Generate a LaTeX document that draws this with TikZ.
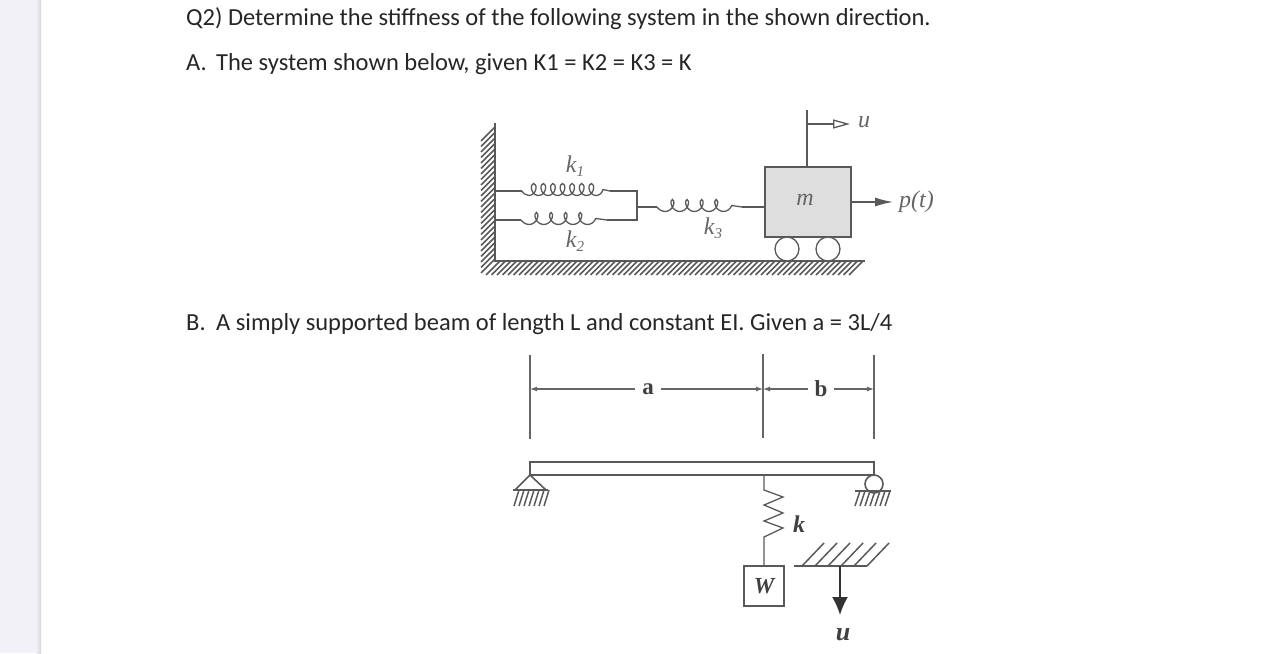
\documentclass[tikz,border=0pt]{standalone}
\usepackage{amsmath, amssymb}
\usepackage{fontspec}
\setmainfont{Carlito}
\newfontfamily\lblfont{Liberation Serif}
\usepackage{tikz}
\usetikzlibrary{arrows.meta, positioning, decorations.pathmorphing}

\definecolor{pagegray}{RGB}{241,241,247}
\definecolor{edgegray}{RGB}{212,212,218}
\newcommand{\ksub}[1]{{\itshape k}\raisebox{-4pt}{\fontsize{15}{15}\selectfont #1}}

\tikzset{
    qtext/.style={anchor=base west, inner sep=0pt, text=black!85, font=\fontsize{24.5}{28}\selectfont},
    lbl/.style={inner sep=0pt, text=black!60, font=\lblfont\itshape\fontsize{24}{26}\selectfont},
    lblb/.style={inner sep=0pt, text=black!75, font=\lblfont\bfseries\fontsize{23}{26}\selectfont},
    part/.style={draw=black!65, line width=1.3pt},
    hatch/.style={draw=black!65, line width=1.5pt},
    coilone/.style={part, decorate, decoration={coil, mirror, aspect=0.75, amplitude=6pt, segment length=9.6pt, raise=-1.5pt}},
    coiltwo/.style={part, decorate, decoration={coil, mirror, aspect=0.75, amplitude=6pt, segment length=14.6pt, raise=-1.5pt}},
    dimline/.style={draw=black!60, line width=1.2pt},
    dimtip/.tip={Latex[length=7pt,width=5pt]}
}

\begin{document}
\begin{tikzpicture}[x=1pt, y=-1pt]
    \useasboundingbox (0,0) rectangle (1284,653);

    % page edge
    \fill[pagegray] (0,0) rectangle (36,653);
    \shade[left color=pagegray, right color=edgegray] (36,0) rectangle (41,653);

    % question text
    \node[qtext] (q2) at (186,25) {Q2) Determine the stiffness of the following system in the shown direction.};
    \node[qtext] (parta) at (186,70) {\makebox[30pt][l]{A.}The system shown below, given K1 = K2 = K3 = K};
    \node[qtext] (partb) at (186,330) {\makebox[30pt][l]{B.}A simply supported beam of length L and constant EI. Given a = 3L/4};

    % wall and floor
    \foreach \y in {127,132.5,...,262}
        \draw[hatch] (495,\y) -- (481,\y+14);
    \foreach \x in {500,505.5,...,866}
        \draw[hatch] (\x,261) -- (\x-14,275);
    \coordinate (walltop) at (495,123);
    \coordinate (corner) at (495,261);
    \coordinate (floorend) at (865,261);
    \draw[part] (walltop) -- (corner) -- (floorend);

    % mass and wheels
    \node[draw=black!65, fill=black!13, line width=1.7pt, minimum width=86pt, minimum height=70pt, inner sep=0pt] (mass) at (808,202) {};
    \node[lbl] (mlabel) at (805,200) {m};
    \node[draw=black!65, fill=white, circle, line width=1.3pt, minimum size=24pt, inner sep=0pt] (wheela) at (787,249) {};
    \node[draw=black!65, fill=white, circle, line width=1.3pt, minimum size=24pt, inner sep=0pt] (wheelb) at (828,249) {};

    % springs
    \coordinate (ka) at (495,191);
    \coordinate (kb) at (522,191);
    \coordinate (kc) at (610,191);
    \coordinate (kd) at (637,191);
    \coordinate (ke) at (495,220);
    \coordinate (kf) at (521,220);
    \coordinate (kg) at (607,220);
    \coordinate (kh) at (637,220);
    \coordinate (ki) at (637,207);
    \coordinate (kj) at (657,207);
    \coordinate (kl) at (742,207);
    \coordinate (km) at (mass.west |- ki);
    \draw[part] (ka) -- (kb);
    \draw[coilone] (kb) -- (kc);
    \draw[part] (kc) -- (kd) -- (kh) -- (kg);
    \draw[coiltwo] (kf) -- (kg);
    \draw[part] (kf) -- (ke);
    \draw[part] (ki) -- (kj);
    \draw[coiltwo] (kj) -- (kl);
    \draw[part] (kl) -- (km);
    \node[lbl] (kone) at (575,166) {\ksub{1}};
    \node[lbl] (ktwo) at (575,241) {\ksub{2}};
    \node[lbl] (kthree) at (713,228) {\ksub{3}};

    % displacement and load
    \coordinate (posttop) at (807,110);
    \coordinate (postarm) at (807,124);
    \node[lbl, anchor=west] (ulabel) at (858,122) {u};
    \draw[part] (posttop) -- (mass.north -| posttop);
    \draw[part, shorten >=8pt, -{Triangle[open, length=17pt, width=9pt, fill=white]}] (postarm) -- (postarm -| ulabel.west);
    \node[lbl, anchor=west] (plabel) at (899,202) {p(t)};
    \draw[part, shorten >=6pt, -{Latex[length=18pt,width=9pt]}] (mass.east |- plabel) -- (plabel.west);

    % dimension lines
    \coordinate (da) at (530,355);
    \coordinate (db) at (530,439);
    \coordinate (dc) at (763,354);
    \coordinate (dd) at (763,438);
    \coordinate (de) at (874,355);
    \coordinate (df) at (874,439);
    \draw[dimline] (da) -- (db);
    \draw[dimline] (dc) -- (dd);
    \draw[dimline] (de) -- (df);
    \node[lblb, fill=white, inner xsep=7pt, inner ysep=0pt] (alabel) at (648,389) {a};
    \node[lblb, fill=white, inner xsep=6pt, inner ysep=0pt] (blabel) at (821,389) {b};
    \draw[dimline, dimtip-] (da |- alabel) -- (alabel);
    \draw[dimline, -dimtip] (alabel) -- (dc |- alabel);
    \draw[dimline, dimtip-] (dc |- blabel) -- (blabel);
    \draw[dimline, -dimtip] (blabel) -- (de |- blabel);

    % beam and supports
    \node[draw=black!65, line width=1.7pt, minimum width=344pt, minimum height=13pt, inner sep=0pt] (beam) at (702,468.5) {};
    \coordinate (pin) at (530,475);
    \coordinate (pinl) at (515,490);
    \coordinate (pinr) at (546,490);
    \draw[part, line width=1.6pt] (pin) -- (pinl) -- (pinr) -- cycle;
    \coordinate (basel) at (513,490);
    \coordinate (baser) at (548,490);
    \draw[part, line width=1.6pt] (basel) -- (baser);
    \foreach \x in {519,524,...,549}
        \draw[hatch] (\x,490) -- (\x-5,506);
    \node[draw=black!65, fill=white, circle, line width=1.6pt, minimum size=18pt, inner sep=0pt] (roller) at (874,484) {};
    \coordinate (basem) at (855,491);
    \coordinate (basen) at (891,491);
    \draw[part, line width=1.6pt] (basem) -- (basen);
    \foreach \x in {860,865,...,891}
        \draw[hatch] (\x,491) -- (\x-5,506);

    % spring and weight
    \node[draw=black!65, line width=1.5pt, minimum width=40pt, minimum height=40pt, inner sep=0pt] (weight) at (764,586) {};
    \node[lblb, font=\lblfont\bfseries\itshape\fontsize{23}{26}\selectfont] (wlabel) at (764,586) {W};
    \coordinate (sprtop) at (764,475);
    \coordinate (sprbot) at (764,537);
    \draw[part] (sprtop) -- (764,490) -- (783,497) -- (764,505) -- (783,513) -- (764,521) -- (783,528) -- (sprbot) -- (weight.north);
    \node[lblb, font=\lblfont\bfseries\itshape\fontsize{24}{26}\selectfont] (klabel) at (799,524) {k};

    % ground and displacement
    \coordinate (gl) at (794,566);
    \coordinate (gr) at (867,566);
    \draw[part] (gl) -- (gr);
    \foreach \x in {802,815,...,868}
        \draw[hatch] (\x,566) -- (\x+22,543);
    \coordinate (ga) at (840,566);
    \coordinate (gb) at (840,615);
    \node[lblb, font=\lblfont\bfseries\itshape\fontsize{26}{28}\selectfont] (ubot) at (843,635) {u};
    \draw[draw=black!80, line width=1.8pt, -{Latex[length=18pt,width=16pt]}] (ga) -- (gb);
\end{tikzpicture}
\end{document}
